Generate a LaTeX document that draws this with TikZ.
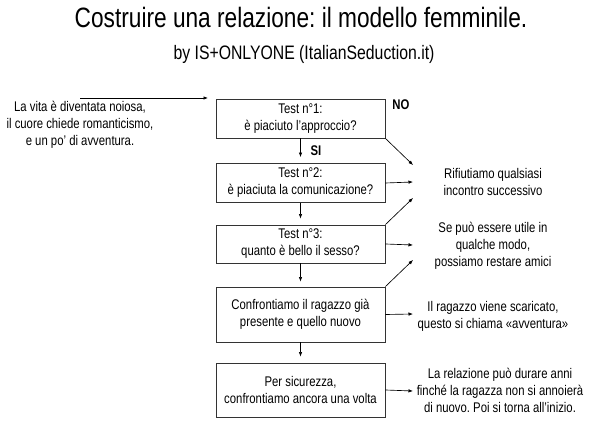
\documentclass[tikz,border=0pt]{standalone}
\usepackage{fontspec}
\setmainfont[FakeStretch=0.81]{Liberation Sans}
\usetikzlibrary{positioning,arrows.meta,calc}
\tikzset{
  testbox/.style={draw=black!80,line width=0.9pt,minimum width=169pt,align=center,
    font=\fontsize{14}{17}\selectfont,inner sep=0pt},
  esito/.style={align=center,font=\fontsize{14}{17}\selectfont},
  freccia/.style={-{Latex[length=4.5pt,width=3.5pt]},line width=0.65pt},
}

\begin{document}
\frenchspacing
\begin{tikzpicture}[x=1pt,y=-1pt]
            \useasboundingbox (0,0) rectangle (600,430);
            \node[anchor=base,font=\fontsize{28}{32}\selectfont] (titolo) at (301,28) {Costruire una relazione: il modello femminile.};
            \node[anchor=base,font=\fontsize{19.5}{22}\selectfont] (autore) at (304,60) {by IS+ONLYONE (ItalianSeduction.it)};
            \node[esito] (inizio) at (80,124.5) {La vita è diventata noiosa,\\il cuore chiede romanticismo,\\e un po' di avventura.};
            \coordinate (avvioA) at (80,98);
            \coordinate (avvioB) at (208,98);
            \draw[freccia] (avvioA)--(avvioB);
            % le cinque prove
            \node[testbox,minimum height=39pt] (test1) at (300.5,118.5) {Test n°1:\\è piaciuto l'approccio?};
            \node[testbox,minimum height=39pt] (test2) at (300.5,183) {Test n°2:\\è piaciuta la comunicazione?};
            \node[testbox,minimum height=38pt] (test3) at (300.5,244) {Test n°3:\\quanto è bello il sesso?};
            \node[testbox,minimum height=55pt] (confronto) at (300.5,314.5) {Confrontiamo il ragazzo già\\presente e quello nuovo};
            \node[testbox,minimum height=54pt] (sicurezza) at (300.5,390) {Per sicurezza,\\confrontiamo ancora una volta};
            \draw[freccia,shorten >=6pt] (test1.south)--(test2.north);
            \draw[freccia,shorten >=6pt] (test2.south)--(test3.north);
            \draw[freccia,shorten >=5pt] (test3.south)--(confronto.north);
            \draw[freccia,shorten >=6pt] (confronto.south)--(sicurezza.north);
            \node[font=\bfseries\fontsize{14}{16}\selectfont] (no) at (401,105) {NO};
            \node[font=\bfseries\fontsize{14}{16}\selectfont] (si) at (316,151) {SI};
            % esiti a destra
            \coordinate (rifA) at (413,165);
            \coordinate (rifB) at (413,182);
            \coordinate (rifC) at (413,198);
            \coordinate (amiA) at (413,245);
            \coordinate (amiB) at (413,260);
            \coordinate (avvA) at (413,314);
            \coordinate (durA) at (413,391);
            \draw[freccia] (test1.south east)--(rifA);
            \draw[freccia] (test2.east)--(rifB);
            \draw[freccia] (test3.north east)--(rifC);
            \draw[freccia] (test3.east)--(amiA);
            \draw[freccia] (confronto.north east)--(amiB);
            \draw[freccia] (confronto.east)--(avvA);
            \draw[freccia] (sicurezza.east)--(durA);
            \node[esito] (rifiuto) at (493,181.5) {Rifiutiamo qualsiasi\\incontro successivo};
            \node[esito] (amici) at (493,246) {Se può essere utile in\\qualche modo,\\possiamo restare amici};
            \node[esito] (avventura) at (493,316) {Il ragazzo viene scaricato,\\questo si chiama «avventura»};
            \node[esito] (durata) at (500,390) {La relazione può durare anni\\finché la ragazza non si annoierà\\di nuovo. Poi si torna all'inizio.};
        \end{tikzpicture}
\end{document}
